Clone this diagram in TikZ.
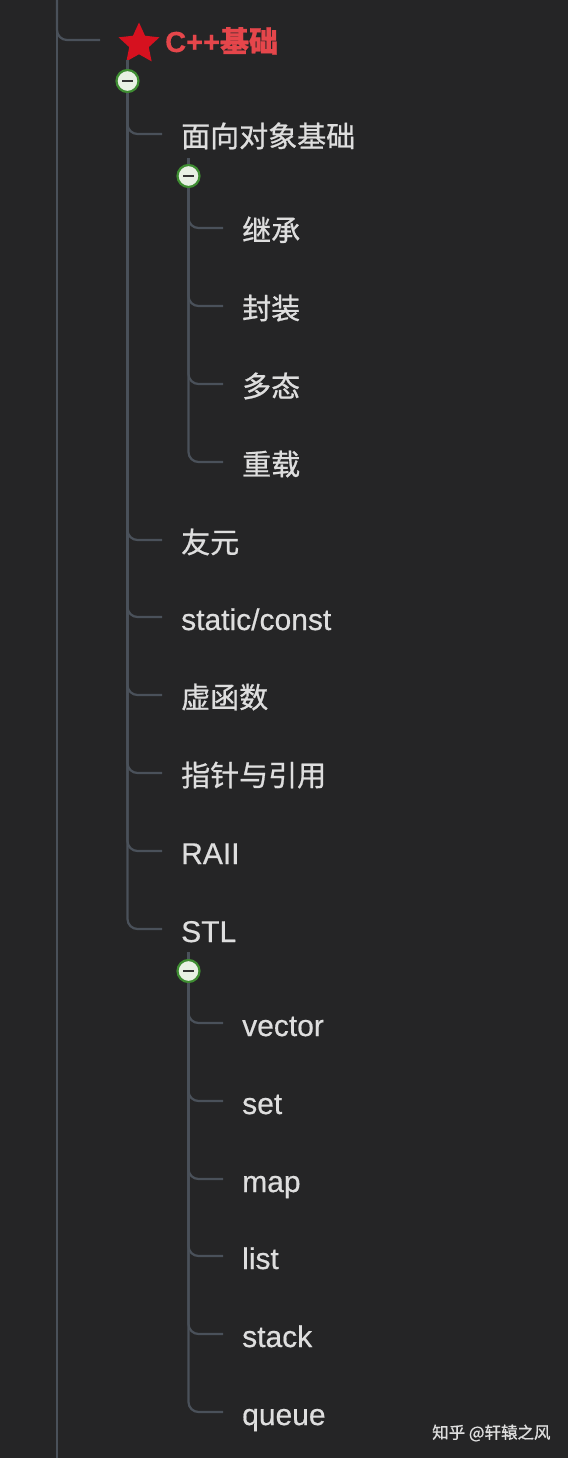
\documentclass[tikz,border=0pt]{standalone}
\usepackage{fontspec}
\setmainfont{Liberation Sans}[FakeBold=0.5]
\newfontfamily\cjk{Noto Sans CJK SC}[FakeBold=0.8]
\usetikzlibrary{shapes.geometric}
\definecolor{bg}{RGB}{37,37,38}
\definecolor{ln}{RGB}{74,81,90}
\definecolor{tx}{RGB}{222,222,222}
\definecolor{rd}{RGB}{229,70,75}
\definecolor{st}{RGB}{214,17,31}
\definecolor{gb}{RGB}{62,140,50}
\definecolor{gf}{RGB}{232,240,228}
\tikzset{
 conn/.style={draw=ln, line width=2.2pt, rounded corners=10pt},
 lbl/.style={anchor=west, inner sep=0pt, text height=30pt, text depth=4pt, text=tx, font=\fontsize{30}{32}\selectfont},
 cj/.style={lbl, font=\cjk\fontsize{29}{32}\selectfont},
 tog/.style={circle, draw=gb, line width=2.2pt, fill=gf, minimum size=22pt, inner sep=0pt},
 minus/.style={draw=black!80, line width=2.5pt},
 wm/.style={anchor=west, inner sep=0pt, text=tx, font=\cjk\fontsize{16.5}{18}\selectfont},
}
\begin{document}
\begin{tikzpicture}[x=1pt,y=-1pt]
\fill[bg] (0,0) rectangle (568,1458);
\useasboundingbox (0,0) rectangle (568,1458);
% trunk
\coordinate (top) at (57,0);
\coordinate (bot) at (57,1458);
\coordinate (rb) at (100,40);
\draw[conn] (top) -- (bot);
\draw[conn] (top) |- (rb);
% root
\node[star, star points=5, star point ratio=2.1, minimum size=43pt, inner sep=0pt, fill=st] (star) at (139,44) {};
\node[lbl, text=rd, font=\bfseries\fontsize{29}{32}\selectfont] (root) at (165,39) {C++{\cjk 基础}};
% level 2 labels
\node[cj] (a1) at (181,134) {面向对象基础};
\node[cj] (a2) at (181,540) {友元};
\node[lbl] (a3) at (181,617) {static/const};
\node[cj] (a4) at (181,695) {虚函数};
\node[cj] (a5) at (181,773) {指针与引用};
\node[lbl] (a6) at (181,851) {RAII};
\node[lbl] (a7) at (181,929) {STL};
% level 3 labels
\node[cj] (b1) at (242,228) {继承};
\node[cj] (b2) at (242,306) {封装};
\node[cj] (b3) at (242,384) {多态};
\node[cj] (b4) at (242,462) {重载};
\node[lbl] (c1) at (242,1023) {vector};
\node[lbl] (c2) at (242,1101) {set};
\node[lbl] (c3) at (242,1179) {map};
\node[lbl] (c4) at (242,1256) {list};
\node[lbl] (c5) at (242,1334) {stack};
\node[lbl] (c6) at (242,1412) {queue};
% toggles
\node[tog] (t0) at (127.5,81) {};
\node[tog] (t1) at (188.5,176) {};
\node[tog] (t2) at (188.5,971) {};
\foreach \t in {t0,t1,t2}
  \draw[minus] ([xshift=-5.5pt]\t.center) -- ([xshift=5.5pt]\t.center);
\coordinate (s0) at (127.5,60);
\coordinate (s1) at (188.5,158);
\coordinate (s2) at (188.5,952);
\draw[conn] (s0) -- (t0.north);
\draw[conn] (s1) -- (t1.north);
\draw[conn] (s2) -- (t2.north);
% connectors
\foreach \n in {a1,a2,a3,a4,a5,a6,a7}
  \draw[conn] (t0.south) |- ([xshift=-19pt]\n.west);
\foreach \n in {b1,b2,b3,b4}
  \draw[conn] (t1.south) |- ([xshift=-19pt]\n.west);
\foreach \n in {c1,c2,c3,c4,c5,c6}
  \draw[conn] (t2.south) |- ([xshift=-19pt]\n.west);
% watermark
\node[wm] (w) at (432,1433) {知乎 @轩辕之风};
\end{tikzpicture}
\end{document}
